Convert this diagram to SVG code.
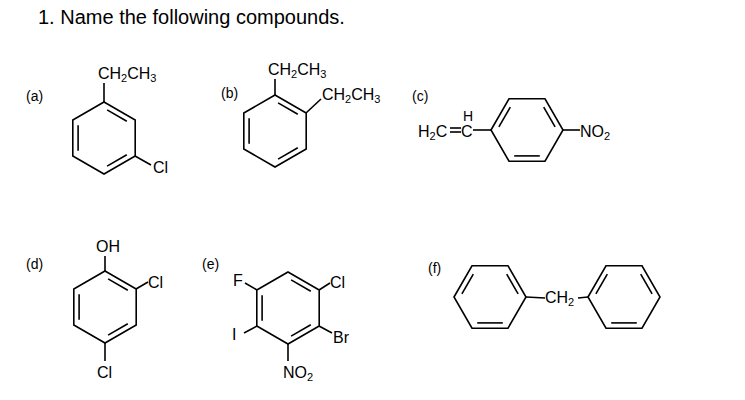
<svg xmlns="http://www.w3.org/2000/svg" width="745" height="400" viewBox="0 0 745 400">
<style>
text{font-family:"Liberation Sans",Arial,sans-serif;fill:#000}
.t{font-size:16px}
.l{font-size:14px}
.s{font-size:11px}
.b{stroke:#000;stroke-width:1.6;fill:none}
</style>
<defs>
<g id="ring" class="b">
<polygon points="0,-36 31.2,-18 31.2,18 0,36 -31.2,18 -31.2,-18"/>
<line x1="3.1" y1="-28.1" x2="22.8" y2="-16.7"/>
<line x1="-25.9" y1="-12.8" x2="-25.9" y2="12.8"/>
<line x1="22.8" y1="16.7" x2="3.1" y2="28.1"/>
</g>
</defs>
<rect width="745" height="400" fill="#fff"/>
<text x="38" y="24" style="font-size:20px">1. Name the following compounds.</text>
<g id="a">
<text x="26" y="101" class="l">(a)</text>
<use href="#ring" transform="translate(104,138)"/>
<line class="b" x1="104" y1="102" x2="104" y2="83"/>
<text x="98" y="79" class="t">CH<tspan class="s" dy="3">2</tspan><tspan dy="-3">CH</tspan><tspan class="s" dy="3">3</tspan></text>
<line class="b" x1="135" y1="156" x2="151" y2="165"/>
<text x="153" y="173" class="t">Cl</text>
</g>
<g id="b">
<text x="221" y="98" class="l">(b)</text>
<use href="#ring" transform="translate(275,131)"/>
<line class="b" x1="275" y1="95" x2="275" y2="79"/>
<text x="268" y="75" class="t">CH<tspan class="s" dy="3">2</tspan><tspan dy="-3">CH</tspan><tspan class="s" dy="3">3</tspan></text>
<line class="b" x1="306" y1="113" x2="321" y2="99"/>
<text x="322" y="100" class="t">CH<tspan class="s" dy="3">2</tspan><tspan dy="-3">CH</tspan><tspan class="s" dy="3">3</tspan></text>
</g>
<g id="c">
<text x="412" y="101" class="l">(c)</text>
<use href="#ring" transform="translate(527,130) rotate(-90)"/>
<text x="418" y="137" class="t">H<tspan class="s" dy="3">2</tspan><tspan dy="-3">C</tspan></text>
<line class="b" x1="450" y1="128" x2="461" y2="128"/>
<line class="b" x1="450" y1="132" x2="461" y2="132"/>
<text x="461" y="137" class="t">C</text>
<text x="463" y="121" class="l">H</text>
<line class="b" x1="473" y1="130" x2="491" y2="130"/>
<line class="b" x1="563" y1="130" x2="580" y2="130"/>
<text x="580" y="137" class="t">NO<tspan class="s" dy="3">2</tspan></text>
</g>
<g id="d">
<text x="26" y="269" class="l">(d)</text>
<use href="#ring" transform="translate(105,307)"/>
<line class="b" x1="105" y1="271" x2="105" y2="256"/>
<text x="96" y="252" class="t">OH</text>
<line class="b" x1="136" y1="289" x2="148" y2="282"/>
<text x="148" y="288" class="t">Cl</text>
<line class="b" x1="105" y1="343" x2="105" y2="361"/>
<text x="97" y="378" class="t">Cl</text>
</g>
<g id="e">
<text x="202" y="269" class="l">(e)</text>
<use href="#ring" transform="translate(288,308)"/>
<text x="233" y="286" class="t">F</text>
<line class="b" x1="245" y1="283" x2="257" y2="290"/>
<line class="b" x1="319" y1="290" x2="330" y2="283"/>
<text x="330" y="288" class="t">Cl</text>
<text x="232" y="340" class="t">I</text>
<line class="b" x1="244" y1="333" x2="257" y2="326"/>
<line class="b" x1="319" y1="326" x2="332" y2="333"/>
<text x="333" y="343" class="t">Br</text>
<line class="b" x1="288" y1="344" x2="288" y2="361"/>
<text x="283" y="378" class="t">NO<tspan class="s" dy="3">2</tspan></text>
</g>
<g id="f">
<text x="428" y="273" class="l">(f)</text>
<use href="#ring" transform="translate(490,297) rotate(-90)"/>
<use href="#ring" transform="translate(624,297) rotate(-90)"/>
<text x="545" y="303" class="t">CH<tspan class="s" dy="3">2</tspan></text>
</g>
<g id="connectors" class="b">
<line x1="526" y1="297" x2="545" y2="298"/>
<line x1="578" y1="298" x2="588" y2="297"/>
</g>
</svg>
